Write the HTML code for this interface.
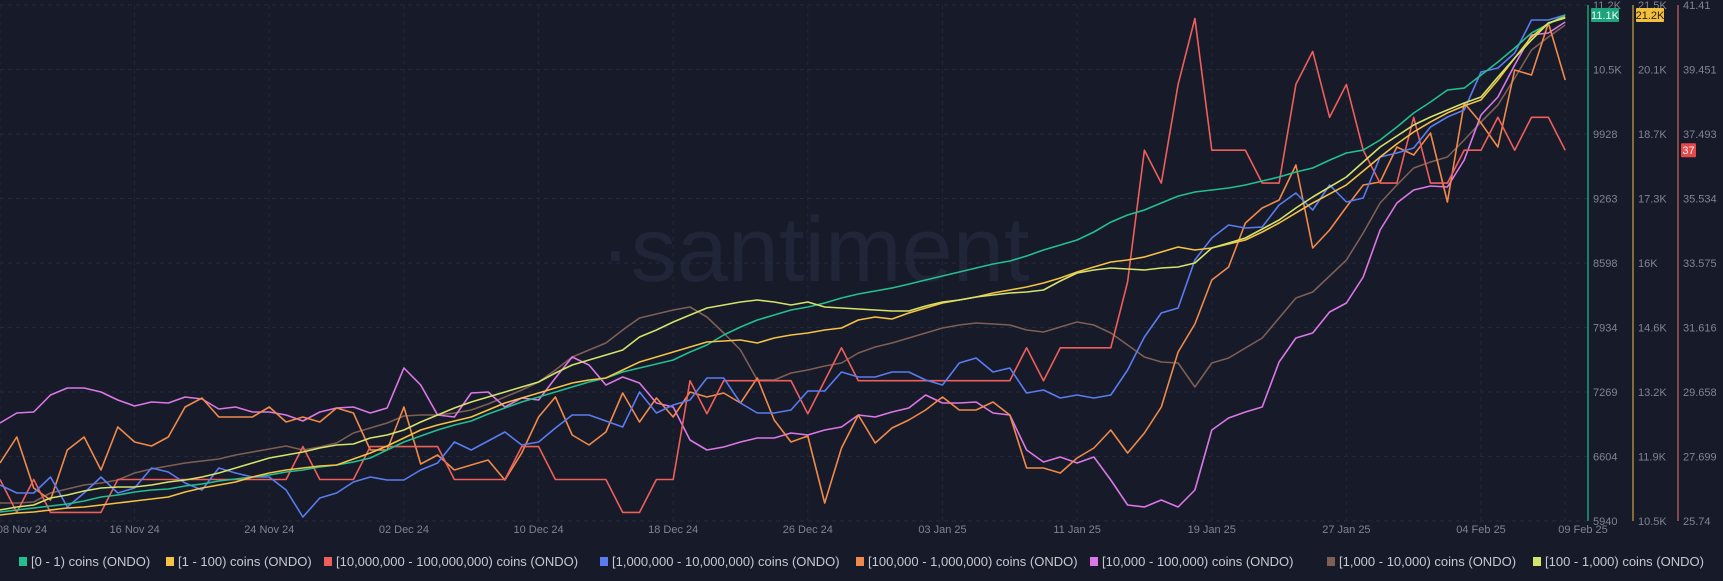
<!DOCTYPE html>
<html><head><meta charset="utf-8">
<style>
html,body{margin:0;padding:0;background:#171a29;}
body{width:1723px;height:581px;overflow:hidden;font-family:"Liberation Sans",sans-serif;}
svg{display:block}
.tick{fill:#7f8493;font-size:11px;font-family:"Liberation Sans",sans-serif}
.leg{fill:#c7c9d1;font-size:13px;font-family:"Liberation Sans",sans-serif}
</style></head>
<body>
<svg id="chart" width="1723" height="581" viewBox="0 0 1723 581" xmlns="http://www.w3.org/2000/svg">
<rect x="0" y="0" width="1723" height="581" fill="#171a29"/>
<text x="600" y="281" font-size="92" fill="#212538" font-family="Liberation Sans, sans-serif">·santiment</text>
<g id="grid"></g>
<g id="series"></g>
<g id="axes"></g>
<g id="xaxis"></g>
<g id="legend"></g>
</svg>
<script>
const dateLabels = ["08 Nov 24","16 Nov 24","24 Nov 24","02 Dec 24","10 Dec 24","18 Dec 24","26 Dec 24","03 Jan 25","11 Jan 25","19 Jan 25","27 Jan 25","04 Feb 25","09 Feb 25"];
const dateDays = [0,8,16,24,32,40,48,56,64,72,80,88,93];
const tealTicks = ["11.2K","10.5K","9928","9263","8598","7934","7269","6604","5940"];
const yellowTicks = ["21.5K","20.1K","18.7K","17.3K","16K","14.6K","13.2K","11.9K","10.5K"];
const redTicks = ["41.41","39.451","37.493","35.534","33.575","31.616","29.658","27.699","25.74"];
const seriesNames = ["[0 - 1) coins (ONDO)","[1 - 100) coins (ONDO)","[10,000,000 - 100,000,000) coins (ONDO)","[1,000,000 - 10,000,000) coins (ONDO)","[100,000  - 1,000,000) coins (ONDO)","[10,000 - 100,000) coins (ONDO)","[1,000 - 10,000) coins (ONDO)","[100 - 1,000) coins (ONDO)"];
const tealValues = [6033,6053,6074,6095,6115,6146,6187,6208,6239,6259,6270,6301,6321,6352,6373,6393,6414,6445,6466,6497,6517,6548,6589,6672,6754,6816,6878,6929,6971,7043,7105,7166,7218,7269,7321,7373,7414,7476,7517,7558,7599,7682,7754,7857,7939,8012,8063,8115,8146,8187,8238,8280,8310,8341,8382,8424,8465,8506,8547,8589,8620,8671,8733,8784,8836,8918,9021,9094,9145,9217,9289,9331,9351,9372,9403,9444,9485,9537,9578,9660,9733,9763,9867,10001,10145,10258,10382,10402,10536,10671,10815,10969,11062,11155];
const yellowValues = [10628,10671,10692,10735,10777,10798,10841,10884,10926,10969,11012,11118,11204,11268,11331,11438,11523,11587,11630,11673,11694,11822,11950,12099,12270,12440,12547,12632,12717,12867,13016,13122,13229,13336,13442,13506,13549,13719,13890,13996,14103,14210,14316,14338,14359,14295,14402,14466,14508,14572,14615,14785,14849,14807,14935,15041,15148,15212,15276,15361,15425,15489,15574,15681,15809,15915,16022,16065,16128,16235,16342,16278,16320,16406,16491,16661,16853,17067,17280,17472,17664,17962,18260,18538,18793,19007,19199,19348,19476,19902,20371,20819,21117,21245];
const redValues = [27,26,27,26,26,26,26,27,27,27,27,27,27,27,27,27,27,27,28,27,27,27,28,28,28,28,28,27,27,27,27,28,28,27,27,27,27,26,26,27,27,30,29,30,30,30,30,30,29,30,31,30,30,30,30,30,30,30,30,30,30,31,30,31,31,31,31,33,37,36,39,41,37,37,37,36,36,39,40,38,39,37,36,36,38,36,36,37,37,38,37,38,38,37];
const blueValues = [72,56,56,88,28,56,88,56,66,106,98,76,62,106,96,88,88,62,8,46,56,78,88,82,82,102,116,158,142,160,178,152,158,186,212,212,200,188,258,216,232,242,286,286,236,216,216,222,260,260,298,288,288,298,298,282,272,316,326,298,306,256,262,246,252,246,252,302,368,416,426,522,566,592,586,588,632,656,622,672,638,646,728,736,746,788,808,822,898,906,936,1002,1002,1012];
const orangeValues = [116,168,66,42,142,168,102,188,158,150,168,228,246,208,208,208,228,198,208,198,226,216,142,142,228,114,132,102,112,122,82,136,208,248,172,152,178,256,198,246,208,258,248,256,236,286,202,158,170,36,146,212,156,186,202,222,248,222,222,238,212,106,106,96,126,146,182,136,176,228,338,394,482,508,596,626,642,712,546,582,628,672,678,748,732,776,638,836,796,748,902,892,996,882];
const pinkValues = [196,216,218,252,266,266,258,242,230,238,236,248,244,224,228,218,218,212,200,218,226,228,216,226,306,272,212,208,256,258,228,246,242,286,328,312,272,288,276,236,228,162,142,148,158,166,166,176,172,182,188,212,208,218,226,252,236,236,238,216,212,142,118,128,116,128,82,32,28,42,28,62,182,206,218,228,318,366,376,418,436,488,582,636,662,670,668,722,812,848,912,972,976,998];
const brownValues = [36,36,38,56,64,72,76,82,96,104,110,116,120,124,132,138,144,150,142,148,156,176,186,196,210,212,212,216,222,234,248,262,278,302,328,342,356,382,406,414,422,428,408,376,342,282,282,296,302,310,316,336,348,356,366,376,386,392,396,394,392,382,378,388,398,392,376,352,328,318,316,268,316,326,346,366,406,446,458,490,522,576,636,672,706,718,728,762,798,832,886,942,968,992];
const limeValues = [22,28,32,46,52,60,66,68,68,72,78,82,88,96,106,116,126,132,138,146,152,154,166,172,182,198,212,226,238,248,258,268,278,296,312,322,332,342,368,382,398,412,426,432,438,442,438,432,438,428,426,424,422,420,420,430,438,442,448,452,456,458,462,480,496,502,506,504,502,506,508,516,546,556,566,584,602,626,648,668,688,718,748,770,792,808,822,836,848,888,926,962,996,1006];

const NS = "http://www.w3.org/2000/svg";
const PLOT_TOP = 5, PLOT_BOTTOM = 521, DAY_W = 16.83;
const xScale = d => d * DAY_W;
const mkY = (min, max) => v => PLOT_BOTTOM - (v - min) / (max - min) * (PLOT_BOTTOM - PLOT_TOP);
const yTeal = mkY(5940, 11258), yYellow = mkY(10500, 21500), yRed = mkY(25.74, 41.41), yHidden = mkY(0, 1032);
function el(tag, attrs, parent){const e=document.createElementNS(NS,tag);for(const k in attrs)e.setAttribute(k,attrs[k]);parent.appendChild(e);return e;}

const grid = document.getElementById('grid');
for (let i = 0; i < 9; i++) {
  const y = PLOT_TOP + i * (PLOT_BOTTOM - PLOT_TOP) / 8;
  const l = el('line',{x1:0,x2:1588,y1:y,y2:y,stroke:'#252a3b','stroke-width':1,'stroke-dasharray':'4 4'},grid);
  
  
}
dateDays.forEach((d,i)=>{
  const x = xScale(d);
  const l = el('line',{x1:x,x2:x,y1:PLOT_TOP,y2:PLOT_BOTTOM,stroke:'#222637','stroke-width':1,'stroke-dasharray':'4 4'},grid);
  
  
});

const seriesDefs = [
  {vals:tealValues, y:yTeal, color:'#23c08f'},
  {vals:yellowValues, y:yYellow, color:'#f4c244'},
  {vals:redValues, y:yRed, color:'#ee5f5b'},
  {vals:blueValues, y:yHidden, color:'#5a7cf0'},
  {vals:orangeValues, y:yHidden, color:'#f08a4a'},
  {vals:pinkValues, y:yHidden, color:'#db78e6'},
  {vals:brownValues, y:yHidden, color:'#7d5f55'},
  {vals:limeValues, y:yHidden, color:'#d4e36a'}
];
const sg = document.getElementById('series');
const drawOrder = [6,5,4,2,3,0,1,7];
drawOrder.forEach(i=>{
  const s = seriesDefs[i];
  const pts = s.vals.map((v,d)=>xScale(d).toFixed(1)+','+s.y(v).toFixed(1)).join(' ');
  const p = el('polyline',{points:pts,fill:'none',stroke:s.color,'stroke-width':1.6,'stroke-linejoin':'round'},sg);
  
  
});

const ax = document.getElementById('axes');
const axesDefs = [
  {x:1588, color:'#1f9e7c', ticks:tealTicks},
  {x:1633, color:'#a8883c', ticks:yellowTicks},
  {x:1678, color:'#a85454', ticks:redTicks}
];
axesDefs.forEach((a,ai)=>{
  const l = el('line',{x1:a.x,x2:a.x,y1:PLOT_TOP,y2:PLOT_BOTTOM,stroke:a.color,'stroke-width':1.5},ax);
  
  
  a.ticks.forEach((t,i)=>{
    const y = PLOT_TOP + i*(PLOT_BOTTOM-PLOT_TOP)/8;
    const tx = el('text',{x:a.x+5,y:y+4,class:'tick'},ax);
    tx.textContent = t;
    
    
  });
});
function badge(x,y,w,text,bg,fg,name){
  const r = el('rect',{x:x,y:y-7,width:w,height:14,fill:bg,rx:1},ax);
  
  
  const t = el('text',{x:x+w/2,y:y+4,'text-anchor':'middle','font-size':11,fill:fg,'font-family':'Liberation Sans, sans-serif'},ax);
  t.textContent = text;
  
  
}
const fmtK = v => (Math.floor(v/100)/10).toFixed(1)+'K';
badge(1591,15,28,fmtK(tealValues[tealValues.length-1]),'#1ea37d','#e9fff6','last-value-badge-0-1');
badge(1636,15,28,fmtK(yellowValues[yellowValues.length-1]),'#f2c03e','#2a2208','last-value-badge-1-100');
badge(1681,yRed(redValues[redValues.length-1]),15,String(redValues[redValues.length-1]),'#e2494b','#fff0f0','last-value-badge-10m-100m');

const xa = document.getElementById('xaxis');
dateLabels.forEach((lab,i)=>{
  let x = xScale(dateDays[i]);
  if (i===0) x = 22;
  if (i===dateLabels.length-1) x = 1583;
  const t = el('text',{x:x,y:533,'text-anchor':'middle',class:'tick'},xa);
  t.textContent = lab;
  
  
});

const lg = document.getElementById('legend');
const legX = [19,166,324,600,856,1090,1327,1533];
seriesNames.forEach((n,i)=>{
  const g = el('g',{},lg);
  
  
  const r = el('rect',{x:legX[i],y:557,width:8,height:9,fill:seriesDefs[i].color},g);
  
  
  const t = el('text',{x:legX[i]+12,y:566,class:'leg'},g);
  t.textContent = n;
  
  
});
</script>
</body></html>
